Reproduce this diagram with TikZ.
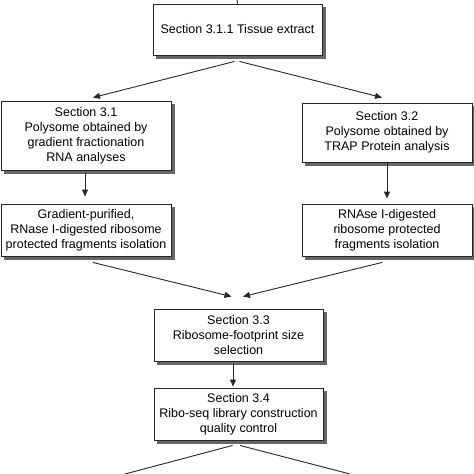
\documentclass[tikz,border=0pt]{standalone}
\usepackage{fontspec}
\setmainfont{Liberation Sans}
\usetikzlibrary{arrows.meta}
\begin{document}
\begin{tikzpicture}[x=1pt,y=-1pt,
  box/.style={draw=black!85, line width=0.9pt, fill=white, rectangle, inner sep=0pt,
    align=center, font=\fontsize{12.5}{15}\selectfont},
  shadowcol/.style={fill=black!60, draw=black!60, line width=0.5pt},
  conn/.style={line width=0.9pt, draw=black!85, -{Triangle[length=7pt,width=6pt]}},
  plain/.style={line width=0.9pt, draw=black!85}]
\useasboundingbox (0,0) rectangle (474,474);
\foreach \cx/\cy/\w/\h in {237.5/29.5/169/51, 86/135.5/170/69, 86/230/170/52, 387/132.5/170/59, 387/230/170/52, 238.5/335/169/52, 238.5/414/169/52}
  \path[shadowcol] ({\cx-\w/2+3},{\cy-\h/2+3}) rectangle ({\cx+\w/2+3},{\cy+\h/2+3});
\node[box, minimum width=169pt, minimum height=51pt] (top) at (237.5,29.5) {Section 3.1.1 Tissue extract};
\node[box, minimum width=170pt, minimum height=69pt] (L1) at (86,135.5) {Section 3.1\\Polysome obtained by\\gradient fractionation\\RNA analyses};
\node[box, minimum width=170pt, minimum height=52pt] (L2) at (86,230) {Gradient-purified,\\RNase I-digested ribosome\\protected fragments isolation};
\node[box, minimum width=170pt, minimum height=59pt] (R1) at (387,132.5) {Section 3.2\\ Polysome obtained by\\TRAP Protein analysis};
\node[box, minimum width=170pt, minimum height=52pt] (R2) at (387,230) {RNAse I-digested\\ribosome protected\\fragments isolation};
\node[box, minimum width=169pt, minimum height=52pt] (B3) at (238.5,335) {Section 3.3\\Ribosome-footprint size\\selection};
\node[box, minimum width=169pt, minimum height=52pt] (B4) at (238.5,414) {Section 3.4\\Ribo-seq library construction\\quality control};
\coordinate (in) at (237,0);
\coordinate (outL) at (125,474);
\coordinate (outR) at (350,474);
\draw[plain] (in) -- (top.north);
\draw[conn] ([shift={(-3,6)}]top.south) -- ([shift={(7,-3)}]L1.north);
\draw[conn] ([shift={(2,6)}]top.south) -- ([shift={(-5,-5)}]R1.north);
\draw[conn] ([shift={(-1,3)}]L1.south) -- ([shift={(-1,-7)}]L2.north);
\draw[conn] (R1.south) -- ([shift={(0,-5)}]R2.north);
\draw[conn] ([shift={(7,6)}]L2.south) -- ([shift={(-7,-12)}]B3.north);
\draw[conn] ([shift={(-5,6)}]R2.south) -- ([shift={(4.5,-12)}]B3.north);
\draw[conn] ([shift={(-5.5,3)}]B3.south) -- ([shift={(-5.5,-1)}]B4.north);
\draw[plain] ([shift={(-6,5)}]B4.south) -- (outL);
\draw[plain] ([shift={(1.5,5)}]B4.south) -- (outR);
\end{tikzpicture}
\end{document}
